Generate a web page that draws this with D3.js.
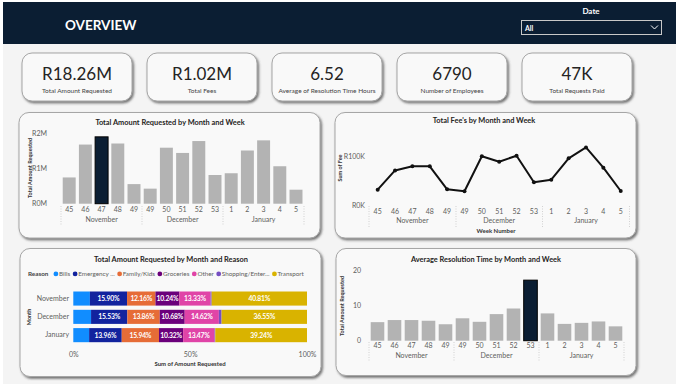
<!DOCTYPE html>
<html>
<head>
<meta charset="utf-8">
<script src="https://cdn.jsdelivr.net/npm/d3@7"></script>
<style>
body { margin: 0; background: #fff; }
svg { display: block; }
text { font-family: Lato, "Open Sans", sans-serif; }
</style>
</head>
<body>
<div id="dash"></div>
<script>
// KPI cards
var kpiValues = ["R18.26M", "R1.02M", "6.52", "6790", "47K"];
var kpiLabels = ["Total Amount Requested", "Total Fees", "Average of Resolution Time Hours", "Number of Employees", "Total Requests Paid"];

// week axis shared by three charts
var months = ["November", "December", "January"];
var weekLabels = ["45", "46", "47", "48", "49", "49", "50", "51", "52", "53", "1", "2", "3", "4", "5"];
var weekMonths = ["November", "November", "November", "November", "November",
  "December", "December", "December", "December", "December",
  "January", "January", "January", "January", "January"];

// R millions
var amountRequested = [0.75, 1.69, 1.91, 1.72, 0.56, 0.43, 1.60, 1.45, 1.79, 0.82, 0.87, 1.52, 1.81, 1.07, 0.40];
// R thousands
var totalFees = [32.7, 72.0, 80.4, 80.4, 33.5, 29.4, 100.8, 89.8, 102.0, 47.8, 53.0, 96.7, 119.0, 77.6, 30.0];
// hours
var avgResolution = [5.3, 5.9, 5.9, 5.7, 4.7, 6.4, 5.4, 7.6, 9.2, 17.3, 7.8, 4.8, 5.1, 5.5, 4.1];

// share of amount requested by reason (%)
var reasons = ["Bills", "Emergency ...", "Family/Kids", "Groceries", "Other", "Shopping/Enter...", "Transport"];
var reasonColors = ["#118dff", "#12239e", "#e66c37", "#6b007b", "#e044a7", "#744ec2", "#d9b300"];
var novemberShares = [7.10, 15.90, 12.16, 10.24, 13.33, 0.46, 40.81];
var decemberShares = [7.60, 15.53, 13.86, 10.68, 14.62, 1.16, 36.55];
var januaryShares = [6.77, 13.96, 15.94, 10.32, 13.47, 0.30, 39.24];

var navy = "#0b1e33";
var grey = "#b3b3b3";
var axisGrey = "#605e5c";
var titleColor = "#252423";

var svg = d3.select("#dash").append("svg")
  .attr("width", 680)
  .attr("height", 384);

var defs = svg.append("defs");
var shadow = defs.append("filter").attr("id", "shadow")
  .attr("x", "-10%").attr("y", "-10%").attr("width", "120%").attr("height", "130%");
shadow.append("feDropShadow")
  .attr("dx", 1.5).attr("dy", 1.8).attr("stdDeviation", 1.2)
  .attr("flood-color", "#4a4a4a").attr("flood-opacity", 0.75);

// page + header
svg.append("rect").attr("x", 3).attr("y", 2).attr("width", 673).attr("height", 382).attr("fill", "#f4f4f4");
svg.append("rect").attr("x", 3).attr("y", 2).attr("width", 673).attr("height", 42).attr("fill", navy);
svg.append("text").attr("x", 65).attr("y", 29.5)
  .attr("fill", "#fff").attr("font-family", "Open Sans").attr("font-weight", 700).attr("font-size", 13.5)
  .text("OVERVIEW");
svg.append("text").attr("x", 591).attr("y", 14).attr("text-anchor", "middle")
  .attr("fill", "#fff").attr("font-weight", 700).attr("font-size", 8)
  .text("Date");
svg.append("rect").attr("x", 521.5).attr("y", 20.5).attr("width", 140).attr("height", 14)
  .attr("fill", navy).attr("stroke", "#c8c8c8").attr("stroke-width", 1);
svg.append("text").attr("x", 525).attr("y", 30.5)
  .attr("fill", "#fff").attr("font-weight", 700).attr("font-size", 7)
  .text("All");
svg.append("path").attr("d", "M651,25.5 L654.5,29 L658,25.5")
  .attr("fill", "none").attr("stroke", "#fff").attr("stroke-width", 1);

function card(x, y, w, h) {
  svg.append("rect")
    .attr("x", x).attr("y", y).attr("width", w).attr("height", h)
    .attr("rx", 10)
    .attr("fill", "#f9f9f9")
    .attr("stroke", "#a6a6a6")
    .attr("stroke-width", 1)
    .attr("filter", "url(#shadow)");
}

// KPI row
kpiValues.forEach(function (v, i) {
  var x = 22 + i * 125;
  card(x, 53, 110, 48);
  svg.append("text").attr("x", x + 55).attr("y", 80).attr("text-anchor", "middle")
    .attr("font-family", "Roboto").attr("font-size", 17).attr("fill", titleColor)
    .text(v);
  svg.append("text").attr("x", x + 55).attr("y", 93).attr("text-anchor", "middle")
    .attr("font-family", "Liberation Serif").attr("font-size", 6.5).attr("fill", "#444")
    .text(kpiLabels[i]);
});

function chartTitle(x, y, t) {
  svg.append("text").attr("x", x).attr("y", y).attr("text-anchor", "middle")
    .attr("font-size", 7.4).attr("font-weight", 700).attr("fill", titleColor)
    .text(t);
}

function yTitle(x, y, t) {
  svg.append("text").attr("transform", "translate(" + x + "," + y + ") rotate(-90)")
    .attr("text-anchor", "middle").attr("font-size", 5.5).attr("font-weight", 700).attr("fill", "#333")
    .text(t);
}

// week numbers + month groups + dotted separators
function weekAxis(x, yWeek, yMonth, sepTop, sepBottom) {
  var ax = svg.append("g")
    .attr("transform", "translate(0," + (yWeek - 2.5) + ")")
    .call(d3.axisBottom(x).tickSize(0).tickPadding(0).tickFormat(function (i) { return weekLabels[i]; }));
  ax.select(".domain").remove();
  ax.selectAll("text").attr("fill", axisGrey).attr("font-size", 7).attr("font-family", "Lato").attr("dy", "0.71em");

  var half = x.step() * x.paddingInner() / 2;
  var bounds = [];
  months.forEach(function (m) {
    var idx = d3.range(15).filter(function (i) { return weekMonths[i] === m; });
    var x0 = x(idx[0]) - half;
    var x1 = x(idx[idx.length - 1]) + x.bandwidth() + half;
    bounds.push(x0, x1);
    svg.append("text").attr("x", (x0 + x1) / 2).attr("y", yMonth).attr("text-anchor", "middle")
      .attr("font-size", 7).attr("fill", axisGrey).text(m);
  });
  svg.selectAll(null).data(Array.from(d3.union(bounds.map(function (b) { return Math.round(b * 2) / 2; }))))
    .enter().append("line")
    .attr("x1", function (d) { return d; }).attr("x2", function (d) { return d; })
    .attr("y1", sepTop).attr("y2", sepBottom)
    .attr("stroke", "#c8c8c8").attr("stroke-width", 0.8).attr("stroke-dasharray", "1,1.5");
}

function leftAxis(y, xPos, ticks, fmt) {
  var ax = svg.append("g").attr("transform", "translate(" + xPos + ",0)")
    .call(d3.axisLeft(y).tickValues(ticks).tickSize(0).tickPadding(0).tickFormat(fmt));
  ax.select(".domain").remove();
  ax.selectAll("text").attr("fill", axisGrey).attr("font-size", 7).attr("font-family", "Lato");
}

// ---- Chart 1: Total Amount Requested by Month and Week
card(19, 112.5, 301, 125.5);
chartTitle(170, 124.5, "Total Amount Requested by Month and Week");
var x1 = d3.scaleBand().domain(d3.range(15)).range([61.1, 304.1]).paddingInner(0.2).paddingOuter(0.1);
var y1 = d3.scaleLinear().domain([0, 2]).range([203.7, 133.7]);
svg.append("g").selectAll("rect").data(amountRequested).enter().append("rect")
  .attr("x", function (d, i) { return x1(i); })
  .attr("y", function (d) { return y1(d); })
  .attr("width", x1.bandwidth())
  .attr("height", function (d) { return y1(0) - y1(d); })
  .attr("fill", function (d, i) { return i === 2 ? navy : grey; })
  .attr("stroke", function (d, i) { return i === 2 ? "#000" : "none"; });
leftAxis(y1, 47, [0, 1, 2], function (d) { return "R" + d + "M"; });
yTitle(32, 168, "Total Amount Requested");
weekAxis(x1, 210, 221.5, 206, 226);

// ---- Chart 2: Total Fee's by Month and Week
card(335, 112.5, 301, 125.5);
chartTitle(484, 122.5, "Total Fee's by Month and Week");
var x2 = d3.scaleBand().domain(d3.range(15)).range([369, 629.4]);
var y2 = d3.scaleLinear().domain([0, 100]).range([205.7, 156.7]);
var cx2 = function (i) { return x2(i) + x2.bandwidth() / 2; };
svg.append("path").datum(totalFees)
  .attr("fill", "none").attr("stroke", "#111").attr("stroke-width", 2).attr("stroke-linejoin", "round")
  .attr("d", d3.line().x(function (d, i) { return cx2(i); }).y(function (d) { return y2(d); }));
svg.append("g").selectAll("circle").data(totalFees).enter().append("circle")
  .attr("cx", function (d, i) { return cx2(i); })
  .attr("cy", function (d) { return y2(d); })
  .attr("r", 2).attr("fill", "#111");
leftAxis(y2, 365, [0, 100], function (d) { return "R" + d + "K"; });
yTitle(342, 168, "Sum of Fee");
weekAxis(x2, 211.7, 222.5, 206, 227);
svg.append("text").attr("x", 496).attr("y", 232.5).attr("text-anchor", "middle")
  .attr("font-size", 6).attr("font-weight", 700).attr("fill", "#333").text("Week Number");

// ---- Chart 3: Total Amount Requested by Month and Reason
card(20, 248.5, 301, 128);
chartTitle(171, 262, "Total Amount Requested by Month and Reason");
var shareRows = [novemberShares, decemberShares, januaryShares].map(function (s, i) {
  var row = { month: months[i] };
  reasons.forEach(function (r, j) { row[r] = s[j]; });
  return row;
});
var x3 = d3.scaleLinear().domain([0, 100]).range([73.3, 307]);
var y3 = d3.scaleBand().domain(months).range([289.4, 344.3]).paddingInner(0.23).paddingOuter(0.115);
var color3 = d3.scaleOrdinal().domain(reasons).range(reasonColors);
var stacked = d3.stack().keys(reasons)(shareRows);
var layer = svg.append("g").selectAll("g").data(stacked).enter().append("g")
  .attr("fill", function (d) { return color3(d.key); });
layer.selectAll("rect").data(function (d) { return d; }).enter().append("rect")
  .attr("x", function (d) { return x3(d[0]); })
  .attr("y", function (d) { return y3(d.data.month); })
  .attr("width", function (d) { return x3(d[1]) - x3(d[0]); })
  .attr("height", y3.bandwidth());
layer.selectAll("text").data(function (d) { return d.filter(function (p) { return p[1] - p[0] >= 10; }); })
  .enter().append("text")
  .attr("x", function (d) { return (x3(d[0]) + x3(d[1])) / 2; })
  .attr("y", function (d) { return y3(d.data.month) + y3.bandwidth() / 2 + 2.4; })
  .attr("text-anchor", "middle").attr("font-size", 6.8).attr("font-weight", 700).attr("fill", "#fff")
  .attr("letter-spacing", -0.2)
  .text(function (d) { return d3.format(".2f")(d[1] - d[0]) + "%"; });
var ax3 = svg.append("g").attr("transform", "translate(69,0)")
  .call(d3.axisLeft(y3).tickSize(0).tickPadding(0));
ax3.select(".domain").remove();
ax3.selectAll("text").attr("fill", axisGrey).attr("font-size", 7).attr("font-family", "Lato");
var ax3b = svg.append("g").attr("transform", "translate(0,352)")
  .call(d3.axisBottom(x3).tickValues([0, 50, 100]).tickSize(0).tickPadding(0).tickFormat(function (d) { return d + "%"; }));
ax3b.select(".domain").remove();
ax3b.selectAll("text").attr("fill", axisGrey).attr("font-size", 7).attr("font-family", "Lato");
yTitle(31, 317, "Month");
svg.append("text").attr("x", 190).attr("y", 365.5).attr("text-anchor", "middle")
  .attr("font-size", 6).attr("font-weight", 700).attr("fill", "#333").text("Sum of Amount Requested");

// legend
var legend = svg.append("g").attr("transform", "translate(28,276)");
legend.append("text").attr("font-size", 6.3).attr("font-weight", 700).attr("fill", "#444").text("Reason");
var lx = 25.5;
reasons.forEach(function (r) {
  legend.append("circle").attr("cx", lx + 2.4).attr("cy", -2.1).attr("r", 2.4).attr("fill", color3(r));
  var t = legend.append("text").attr("x", lx + 5.5).attr("font-size", 6.3).attr("fill", axisGrey).text(r);
  lx += 5.5 + t.node().getComputedTextLength() + 2.5;
});

// ---- Chart 4: Average Resolution Time by Month and Week
card(336, 248.5, 300, 127);
chartTitle(486, 262, "Average Resolution Time by Month and Week");
var x4 = d3.scaleBand().domain(d3.range(15)).range([369, 624]).paddingInner(0.2).paddingOuter(0.1);
var y4 = d3.scaleLinear().domain([0, 20]).range([340.7, 270.7]);
svg.append("g").selectAll("rect").data(avgResolution).enter().append("rect")
  .attr("x", function (d, i) { return x4(i); })
  .attr("y", function (d) { return y4(d); })
  .attr("width", x4.bandwidth())
  .attr("height", function (d) { return y4(0) - y4(d); })
  .attr("fill", function (d, i) { return i === 9 ? navy : grey; })
  .attr("stroke", function (d, i) { return i === 9 ? "#000" : "none"; });
leftAxis(y4, 361, [0, 10, 20], function (d) { return d; });
yTitle(344, 306, "Total Amount Requested");
weekAxis(x4, 345.7, 357.5, 342, 362);
</script>
</body>
</html>
